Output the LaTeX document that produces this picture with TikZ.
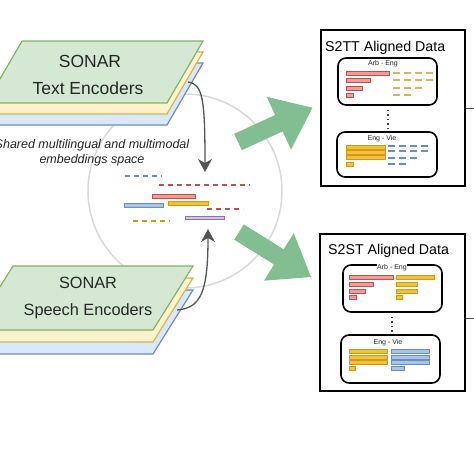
\documentclass[tikz,border=0pt]{standalone}
\usepackage{fontspec}
\setmainfont{Liberation Sans}
\usepackage{xcolor}
\usepackage{tikz}
\usetikzlibrary{arrows.meta}
\usetikzlibrary{calc}
\usetikzlibrary{positioning}

\definecolor{encgreen}{HTML}{D5E8D4}
\definecolor{encgreenline}{HTML}{82B366}
\definecolor{encyellow}{HTML}{FFF2CC}
\definecolor{encyellowline}{HTML}{D6B656}
\definecolor{encblue}{HTML}{DAE8FC}
\definecolor{encblueline}{HTML}{6C8EBF}
\definecolor{embred}{HTML}{F19C99}
\definecolor{embredline}{HTML}{B85450}
\definecolor{embgold}{HTML}{F2C040}
\definecolor{embgoldline}{HTML}{D29A10}
\definecolor{embblue}{HTML}{A9C4EB}
\definecolor{embpurple}{HTML}{D5C4E2}
\definecolor{embpurpleline}{HTML}{9673A6}
\definecolor{bigarrow}{RGB}{130,190,145}
\definecolor{curvegray}{HTML}{555555}

\tikzset{
  greenlayer/.style={draw=encgreenline, fill=encgreen, line width=1.2pt},
  yellowlayer/.style={draw=encyellowline, fill=encyellow, line width=1.2pt},
  bluelayer/.style={draw=encblueline, fill=encblue, line width=1.2pt},
  enclabel/.style={inner sep=0pt, text=black!85},
  spacelabel/.style={inner sep=0pt, align=center, text=black!85,
    font=\itshape\fontsize{12.5}{14.5}\selectfont},
  spacecircle/.style={draw=black!15, line width=1.5pt},
  curvearrow/.style={draw=curvegray, line width=1.3pt,
    -{Stealth[length=13pt, width=14pt, inset=4pt]}},
  redbar/.style={draw=embredline, fill=embred, line width=0.8pt},
  goldbar/.style={draw=embgoldline, fill=embgold, line width=0.8pt},
  bluebar/.style={draw=encblueline, fill=embblue, line width=0.8pt},
  purplebar/.style={draw=embpurpleline, fill=embpurple, line width=0.8pt},
  embdash/.style={line width=1.5pt, dash pattern=on 5pt off 4pt},
  pairdash/.style={line width=1.4pt, dash pattern=on 7pt off 4pt},
  databox/.style={draw=black, line width=1.6pt, inner sep=0pt},
  pairbox/.style={draw=black, line width=1.6pt, rounded corners=8pt, inner sep=0pt},
  boxtitle/.style={inner sep=0pt, anchor=west, font=\fontsize{14.2}{16}\selectfont},
  pairlabel/.style={inner sep=0pt, font=\fontsize{7}{8}\selectfont, text=black!85},
  pairdots/.style={line width=1.5pt, dash pattern=on 1.5pt off 3pt, draw=black!75},
  stubline/.style={draw=black!70, line width=1pt}
}

\begin{document}
\begin{tikzpicture}[x=1pt,y=-1pt]
  \useasboundingbox (0,0) rectangle (474,474);

  % embeddings space
  \draw[spacecircle] (185,191) circle (97pt);

  % text encoders
  \draw[bluelayer] (22,63) -- (203,63) -- (167,125) -- (-14,125) -- cycle;
  \draw[yellowlayer] (22,52) -- (203,52) -- (167,114) -- (-14,114) -- cycle;
  \draw[greenlayer] (22,41) -- (203,41) -- (167,103) -- (-14,103) -- cycle;
  \node[enclabel, font=\fontsize{17.5}{20}\selectfont] (txtsonar) at (90,61) {SONAR};
  \node[enclabel, font=\fontsize{17.5}{20}\selectfont] (txtname) at (88,88) {Text Encoders};

  % speech encoders
  \draw[bluelayer] (13,290) -- (193,290) -- (153,354) -- (-27,354) -- cycle;
  \draw[yellowlayer] (13,278) -- (193,278) -- (153,342) -- (-27,342) -- cycle;
  \draw[greenlayer] (13,266) -- (193,266) -- (153,330) -- (-27,330) -- cycle;
  \node[enclabel, font=\fontsize{16.3}{19}\selectfont] (spsonar) at (88,283) {SONAR};
  \node[enclabel, font=\fontsize{16.3}{19}\selectfont] (spname) at (88,311) {Speech Encoders};

  \node[spacelabel] (spacename) at (92,153) {Shared multilingual and multimodal\\embeddings space};

  % vectors in the space
  \draw[embdash, draw=encblueline] (125,176) -- (162,176);
  \draw[embdash, draw=embredline] (159,185) -- (250,185);
  \draw[redbar] (152,194) rectangle (195,198);
  \draw[bluebar] (124,203) rectangle (163,207);
  \draw[goldbar] (168,201) rectangle (208,205);
  \draw[embdash, draw=embredline] (207,209) -- (243,209);
  \draw[purplebar] (185,216) rectangle (224,219);
  \draw[embdash, draw=embgoldline] (133,221) -- (170,221);

  % curved arrows
  \coordinate (txtout) at (188,82);
  \coordinate (embtop) at (205,172);
  \coordinate (spout) at (177,310);
  \coordinate (embbot) at (208,229);
  \draw[curvearrow] (txtout) .. controls (203,84) and (205,100) .. (embtop);
  \draw[curvearrow] (spout) .. controls (201,308) and (208,292) .. (embbot);

  % big arrows
  \fill[bigarrow, shift={(238,142)}, rotate=24.7]
    (0,-9) -- (45,-9) -- (45,-29) -- (82,0) -- (45,29) -- (45,9) -- (0,9) -- cycle;
  \fill[bigarrow, shift={(239,232)}, rotate=-32]
    (0,-9) -- (47,-9) -- (47,-28) -- (85,0) -- (47,28) -- (47,9) -- (0,9) -- cycle;

  % S2TT
  \node[databox, minimum width=144pt, minimum height=156pt] (s2tt) at (393,108) {};
  \node[boxtitle] (s2tttitle) at (325,48) {S2TT Aligned Data};
  \node[pairbox, minimum width=99pt, minimum height=47pt] (ttarb) at (387.5,81.5) {};
  \node[pairlabel] (ttarblabel) at (383,63.5) {Arb - Eng};
  \draw[redbar] (346,71) rectangle (389,75);
  \draw[redbar] (346,78) rectangle (370,82);
  \draw[redbar] (346,86) rectangle (362,90);
  \draw[redbar] (346,93) rectangle (353,97);
  \draw[pairdash, draw=encyellowline] (393,73) -- (433,73);
  \draw[pairdash, draw=encyellowline] (393,80) -- (433,80);
  \draw[pairdash, draw=encyellowline] (393,88) -- (422,88);
  \draw[pairdash, draw=encyellowline] (393,95) -- (411,95);
  \draw[pairdots] (ttarb.south) ++(0.5,4) -- ++(0,19);
  \node[pairbox, minimum width=100pt, minimum height=45pt] (ttvie) at (387,154.5) {};
  \node[pairlabel] (ttvielabel) at (382,138.5) {Eng - Vie};
  \draw[goldbar] (346,145) rectangle (385,149);
  \draw[goldbar] (346,150) rectangle (385,154);
  \draw[goldbar] (346,155) rectangle (385,159);
  \draw[goldbar] (346,162) rectangle (353,166);
  \draw[pairdash, draw=encblueline] (388,146) -- (428,146);
  \draw[pairdash, draw=encblueline] (388,151) -- (428,151);
  \draw[pairdash, draw=encblueline] (388,158) -- (417,158);
  \draw[pairdash, draw=encblueline] (388,164) -- (406,164);
  \coordinate (s2ttexit) at (474,108);
  \draw[stubline] (s2tt.east) -- (s2ttexit);

  % S2ST
  \node[databox, minimum width=145pt, minimum height=157pt] (s2st) at (392.5,312.5) {};
  \node[boxtitle] (s2sttitle) at (328,251) {S2ST Aligned Data};
  \node[pairbox, minimum width=99pt, minimum height=47pt] (starb) at (392.5,288.5) {};
  \node[pairlabel, fill=white, inner sep=0.5pt] (starblabel) at (392,267.5) {Arb - Eng};
  \draw[redbar] (349,275) rectangle (393,279);
  \draw[redbar] (349,282) rectangle (373,286);
  \draw[redbar] (349,289) rectangle (365,293);
  \draw[redbar] (349,295) rectangle (356,299);
  \draw[goldbar] (396,275) rectangle (434,279);
  \draw[goldbar] (396,282) rectangle (417,286);
  \draw[goldbar] (396,289) rectangle (417,293);
  \draw[goldbar] (396,295) rectangle (402,299);
  \draw[pairdots] (starb.south) ++(-0.5,4) -- ++(0,18);
  \node[pairbox, minimum width=99pt, minimum height=48pt] (stvie) at (390.5,359) {};
  \node[pairlabel] (stvielabel) at (388,343) {Eng - Vie};
  \draw[goldbar] (349,349) rectangle (387,353);
  \draw[goldbar] (349,355) rectangle (387,359);
  \draw[goldbar] (349,360.5) rectangle (387,364.5);
  \draw[goldbar] (349,366) rectangle (355,370);
  \draw[bluebar] (391,349) rectangle (429,353);
  \draw[bluebar] (391,355) rectangle (429,359);
  \draw[bluebar] (391,360.5) rectangle (429,364.5);
  \draw[bluebar] (391,366) rectangle (404,370);
  \coordinate (s2stexit) at (474,318);
  \draw[stubline] (s2st.east |- s2stexit) -- (s2stexit);
\end{tikzpicture}
\end{document}
